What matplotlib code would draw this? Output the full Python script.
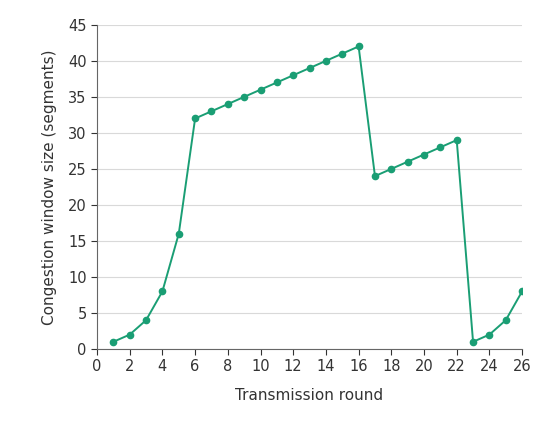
import matplotlib.pyplot as plt

# Transmission rounds and congestion window sizes
rounds = list(range(1, 27))
cwnd = [1, 2, 4, 8, 16, 32, 33, 34, 35, 36, 37, 38, 39, 40, 41, 42,
        24, 25, 26, 27, 28, 29, 1, 2, 4, 8]

x_ticks = list(range(0, 27, 2))
y_ticks = list(range(0, 46, 5))

fig = plt.figure(figsize=(5.45, 4.21), dpi=100)
ax = fig.add_axes([0.178, 0.171, 0.780, 0.770])

color = "#1a9e74"
ax.plot(rounds, cwnd, color=color, lw=1.4, marker="o", markersize=4.5, zorder=3)

ax.set_xlim(0, 26)
ax.set_ylim(0, 45)
ax.set_xticks(x_ticks)
ax.set_yticks(y_ticks)
ax.yaxis.grid(True, color="#d9d9d9", lw=0.8)
ax.set_axisbelow(True)

for side in ["top", "right"]:
    ax.spines[side].set_visible(False)
for side in ["left", "bottom"]:
    ax.spines[side].set_color("#666666")
ax.tick_params(colors="#333333", labelsize=10.5, direction="out", length=4)

ax.set_xlabel("Transmission round", fontsize=11, color="#333333", labelpad=10)
ax.set_ylabel("Congestion window size (segments)", fontsize=11, color="#333333", labelpad=8)

fig.savefig("out.png", dpi=100)
